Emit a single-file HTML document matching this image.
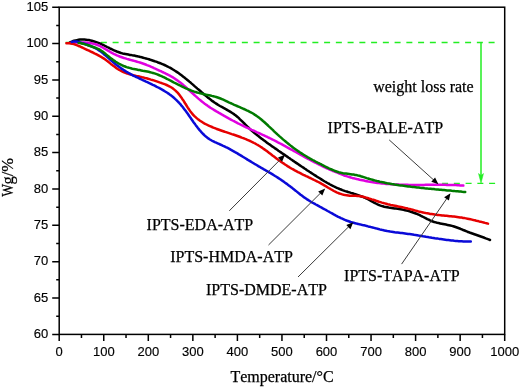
<!DOCTYPE html>
<html><head><meta charset="utf-8"><title>TGA curves</title>
<style>html,body{margin:0;padding:0;background:#fff;}body{width:520px;height:387px;overflow:hidden;}svg{display:block;filter:blur(0.25px);}</style>
</head><body><svg width="520" height="387" viewBox="0 0 520 387"><path d="M65.6,42.6H496" stroke="#22ee22" stroke-width="1.5" stroke-dasharray="6 5.75" fill="none"/><path d="M442.1,183.4H495.5" stroke="#22ee22" stroke-width="1.2" stroke-dasharray="6 5.75" fill="none"/><path d="M481,42.6V176" stroke="#22ee22" stroke-width="1.5" fill="none"/><path d="M478.5,173.5L481,183.2L483.5,173.5L481,175.5Z" fill="#22ee22" stroke="#22ee22" stroke-width="0.5"/><path d="M69.9,42.5 71.3,41.9 72.7,41.3 74.1,40.8 75.6,40.4 77.0,40.1 78.5,39.8 80.0,39.6 81.5,39.5 83.0,39.5 84.5,39.6 86.0,39.7 87.5,39.9 89.0,40.1 90.5,40.4 91.9,40.7 93.4,41.1 94.8,41.6 96.3,42.1 97.7,42.6 99.1,43.1 100.5,43.7 101.8,44.4 103.2,45.0 104.5,45.7 105.9,46.3 107.2,47.0 108.6,47.7 109.9,48.4 111.3,49.0 112.6,49.7 114.0,50.3 115.4,50.9 116.8,51.5 118.2,52.0 119.6,52.5 121.0,53.0 122.5,53.4 124.0,53.7 125.4,54.0 126.9,54.3 128.4,54.6 129.9,54.9 131.4,55.1 132.8,55.4 134.3,55.6 135.8,55.9 137.3,56.2 138.7,56.6 140.2,56.9 141.7,57.3 143.1,57.7 144.6,58.1 146.0,58.5 147.5,58.9 148.9,59.3 150.3,59.8 151.8,60.2 153.2,60.7 154.7,61.2 156.1,61.6 157.5,62.2 158.9,62.7 160.3,63.2 161.7,63.8 163.1,64.4 164.5,65.0 165.8,65.6 167.2,66.3 168.5,67.0 169.9,67.7 171.2,68.4 172.5,69.2 173.8,70.0 175.0,70.8 176.3,71.6 177.5,72.4 178.8,73.3 180.0,74.2 181.2,75.1 182.4,76.0 183.6,76.9 184.8,77.8 185.9,78.8 187.1,79.7 188.3,80.7 189.4,81.7 190.6,82.6 191.7,83.6 192.9,84.6 194.0,85.6 195.1,86.6 196.3,87.6 197.4,88.6 198.5,89.5 199.7,90.5 200.8,91.5 201.9,92.5 203.1,93.5 204.2,94.5 205.4,95.4 206.5,96.4 207.7,97.4 208.9,98.3 210.1,99.2 211.2,100.2 212.5,101.1 213.7,101.9 214.9,102.8 216.2,103.6 217.4,104.4 218.7,105.2 220.0,106.0 221.3,106.7 222.7,107.4 224.0,108.2 225.3,108.9 226.6,109.6 227.9,110.4 229.2,111.1 230.5,111.9 231.8,112.7 233.0,113.5 234.3,114.4 235.5,115.3 236.7,116.3 237.8,117.2 238.9,118.2 240.0,119.3 241.1,120.3 242.2,121.4 243.2,122.4 244.3,123.5 245.4,124.6 246.4,125.6 247.5,126.7 248.6,127.7 249.7,128.8 250.8,129.8 251.9,130.8 253.1,131.8 254.2,132.7 255.4,133.7 256.5,134.7 257.7,135.6 258.9,136.5 260.1,137.5 261.3,138.4 262.5,139.3 263.7,140.2 264.9,141.1 266.1,142.0 267.3,142.9 268.5,143.8 269.8,144.6 271.0,145.5 272.2,146.4 273.5,147.2 274.7,148.1 275.9,148.9 277.2,149.8 278.4,150.7 279.6,151.5 280.9,152.4 282.1,153.2 283.4,154.1 284.6,154.9 285.9,155.8 287.1,156.6 288.3,157.5 289.6,158.3 290.8,159.2 292.1,160.0 293.3,160.9 294.5,161.7 295.8,162.6 297.0,163.4 298.3,164.3 299.5,165.1 300.8,166.0 302.0,166.8 303.3,167.6 304.5,168.5 305.8,169.3 307.0,170.2 308.3,171.0 309.5,171.8 310.8,172.6 312.1,173.5 313.3,174.3 314.6,175.1 315.9,175.9 317.1,176.7 318.4,177.5 319.7,178.3 321.0,179.1 322.2,179.9 323.5,180.7 324.8,181.5 326.1,182.2 327.4,183.0 328.7,183.7 330.1,184.5 331.4,185.2 332.7,185.8 334.1,186.5 335.4,187.2 336.8,187.8 338.2,188.4 339.6,189.0 341.0,189.5 342.4,190.1 343.8,190.6 345.2,191.1 346.7,191.5 348.1,192.0 349.5,192.4 351.0,192.9 352.4,193.3 353.8,193.8 355.3,194.2 356.7,194.7 358.1,195.2 359.6,195.7 361.0,196.2 362.4,196.7 363.8,197.3 365.2,197.9 366.5,198.5 367.9,199.2 369.2,199.9 370.5,200.6 371.8,201.4 373.2,202.1 374.5,202.8 375.8,203.5 377.1,204.2 378.5,204.8 379.9,205.4 381.3,205.9 382.8,206.3 384.2,206.7 385.7,207.0 387.2,207.3 388.7,207.6 390.1,207.8 391.6,208.0 393.1,208.2 394.6,208.4 396.1,208.6 397.6,208.8 399.1,209.0 400.6,209.3 402.1,209.6 403.5,209.9 405.0,210.2 406.5,210.5 407.9,210.9 409.4,211.3 410.8,211.7 412.3,212.2 413.7,212.7 415.1,213.2 416.5,213.7 417.9,214.3 419.3,214.9 420.6,215.6 422.0,216.3 423.3,217.0 424.6,217.7 426.0,218.4 427.3,219.1 428.7,219.7 430.0,220.4 431.4,221.0 432.8,221.5 434.2,222.0 435.7,222.4 437.1,222.8 438.6,223.1 440.1,223.4 441.6,223.7 443.0,224.0 444.5,224.3 446.0,224.6 447.5,224.9 449.0,225.2 450.4,225.5 451.9,225.9 453.3,226.3 454.8,226.8 456.2,227.3 457.6,227.8 459.0,228.3 460.4,228.8 461.8,229.4 463.2,230.0 464.6,230.5 466.0,231.1 467.4,231.7 468.8,232.2 470.2,232.8 471.6,233.3 473.0,233.8 474.4,234.3 475.9,234.8 477.3,235.3 478.7,235.8 480.1,236.3 481.5,236.8 483.0,237.3 484.4,237.8 485.8,238.4 487.2,238.9 488.6,239.4 490.0,240.0" fill="none" stroke="#000000" stroke-width="2.5" stroke-linejoin="round" stroke-linecap="round"/><path d="M70.0,43.0 71.5,42.9 73.0,42.8 74.5,42.7 76.0,42.6 77.5,42.6 79.1,42.5 80.6,42.5 82.1,42.5 83.6,42.5 85.1,42.6 86.6,42.7 88.1,42.8 89.6,43.0 91.1,43.3 92.6,43.6 94.0,43.9 95.5,44.3 96.9,44.8 98.3,45.3 99.7,45.9 101.1,46.6 102.4,47.3 103.7,48.1 105.0,48.8 106.3,49.6 107.6,50.4 108.9,51.2 110.2,51.9 111.5,52.7 112.8,53.4 114.2,54.1 115.5,54.7 116.9,55.4 118.3,55.9 119.7,56.5 121.1,57.0 122.5,57.5 124.0,58.0 125.4,58.4 126.9,58.9 128.3,59.3 129.8,59.7 131.2,60.1 132.7,60.5 134.1,60.9 135.6,61.3 137.0,61.7 138.5,62.1 139.9,62.5 141.4,63.0 142.8,63.5 144.2,64.0 145.6,64.5 147.0,65.1 148.4,65.6 149.8,66.2 151.2,66.8 152.6,67.4 154.0,68.1 155.3,68.7 156.7,69.3 158.1,70.0 159.4,70.6 160.8,71.2 162.2,71.9 163.5,72.5 164.9,73.2 166.3,73.9 167.6,74.5 168.9,75.2 170.3,75.9 171.6,76.7 172.9,77.4 174.2,78.2 175.4,79.1 176.7,79.9 177.9,80.8 179.1,81.7 180.3,82.6 181.5,83.5 182.7,84.5 183.8,85.5 185.0,86.4 186.1,87.4 187.2,88.4 188.4,89.4 189.5,90.5 190.6,91.5 191.7,92.5 192.8,93.5 193.9,94.5 195.0,95.6 196.2,96.6 197.3,97.6 198.4,98.6 199.6,99.6 200.7,100.5 201.9,101.5 203.1,102.4 204.3,103.4 205.5,104.3 206.7,105.1 207.9,106.0 209.2,106.9 210.4,107.7 211.7,108.5 213.0,109.3 214.3,110.1 215.6,110.9 216.9,111.7 218.2,112.4 219.5,113.2 220.8,113.9 222.1,114.7 223.4,115.4 224.7,116.2 226.0,116.9 227.3,117.6 228.7,118.4 230.0,119.1 231.3,119.8 232.6,120.5 234.0,121.2 235.3,121.9 236.7,122.6 238.0,123.3 239.4,124.0 240.7,124.7 242.1,125.3 243.4,126.0 244.8,126.6 246.1,127.3 247.5,127.9 248.9,128.5 250.3,129.2 251.6,129.8 253.0,130.4 254.4,131.0 255.8,131.7 257.1,132.3 258.5,132.9 259.9,133.5 261.2,134.2 262.6,134.8 264.0,135.4 265.4,136.1 266.7,136.7 268.1,137.4 269.4,138.0 270.8,138.7 272.1,139.3 273.5,140.0 274.8,140.7 276.2,141.4 277.5,142.1 278.9,142.8 280.2,143.5 281.5,144.2 282.8,144.9 284.2,145.7 285.5,146.4 286.8,147.1 288.1,147.8 289.5,148.6 290.8,149.3 292.1,150.0 293.4,150.8 294.7,151.5 296.1,152.2 297.4,153.0 298.7,153.7 300.0,154.4 301.3,155.2 302.7,155.9 304.0,156.6 305.3,157.4 306.6,158.1 308.0,158.8 309.3,159.5 310.6,160.2 311.9,160.9 313.3,161.6 314.6,162.3 316.0,163.0 317.3,163.7 318.7,164.4 320.0,165.0 321.4,165.7 322.7,166.4 324.1,167.0 325.5,167.6 326.8,168.3 328.2,168.9 329.6,169.5 331.0,170.1 332.4,170.7 333.8,171.2 335.2,171.8 336.6,172.4 338.0,172.9 339.4,173.5 340.8,174.1 342.2,174.6 343.6,175.2 345.0,175.7 346.4,176.1 347.9,176.6 349.3,177.0 350.8,177.5 352.2,177.9 353.7,178.2 355.1,178.6 356.6,179.0 358.1,179.3 359.6,179.7 361.0,180.0 362.5,180.3 364.0,180.6 365.5,180.9 366.9,181.2 368.4,181.5 369.9,181.7 371.4,182.0 372.9,182.2 374.4,182.5 375.9,182.7 377.4,182.9 378.9,183.1 380.4,183.3 381.9,183.4 383.4,183.6 384.9,183.7 386.4,183.9 387.9,184.0 389.4,184.1 390.9,184.2 392.4,184.3 393.9,184.4 395.4,184.5 396.9,184.5 398.4,184.6 399.9,184.7 401.4,184.7 402.9,184.7 404.5,184.8 406.0,184.8 407.5,184.8 409.0,184.9 410.5,184.9 412.0,184.9 413.5,184.9 415.0,184.9 416.5,184.9 418.0,184.9 419.5,184.9 421.1,184.9 422.6,184.9 424.1,184.9 425.6,184.8 427.1,184.8 428.6,184.8 430.1,184.8 431.6,184.8 433.1,184.8 434.6,184.8 436.1,184.8 437.7,184.8 439.2,184.8 440.7,184.8 442.2,184.8 443.7,184.8 445.2,184.8 446.7,184.9 448.2,184.9 449.7,184.9 451.2,185.0 452.7,185.0 454.3,185.1 455.8,185.1 457.3,185.2 458.8,185.3 460.3,185.4 461.8,185.5 463.3,185.6" fill="none" stroke="#e000e0" stroke-width="2.5" stroke-linejoin="round" stroke-linecap="round"/><path d="M66.4,43.2 67.9,43.2 69.4,43.3 70.9,43.5 72.3,43.8 73.8,44.1 75.2,44.6 76.6,45.1 78.0,45.7 79.4,46.2 80.8,46.9 82.2,47.5 83.5,48.2 84.9,48.8 86.2,49.5 87.6,50.1 89.0,50.7 90.3,51.4 91.7,52.0 93.1,52.6 94.4,53.3 95.8,54.0 97.1,54.6 98.4,55.3 99.8,56.1 101.1,56.8 102.3,57.6 103.6,58.4 104.9,59.3 106.1,60.1 107.3,61.1 108.5,62.0 109.6,62.9 110.8,63.9 112.0,64.8 113.2,65.7 114.4,66.6 115.6,67.5 116.8,68.4 118.1,69.2 119.3,70.0 120.7,70.7 122.0,71.4 123.4,72.0 124.8,72.6 126.2,73.2 127.6,73.6 129.0,74.1 130.5,74.5 131.9,74.9 133.4,75.3 134.9,75.6 136.3,76.0 137.8,76.3 139.3,76.6 140.7,76.9 142.2,77.3 143.7,77.6 145.1,78.0 146.6,78.3 148.0,78.7 149.5,79.1 150.9,79.6 152.4,80.0 153.8,80.4 155.2,80.9 156.7,81.4 158.1,81.9 159.5,82.4 160.9,82.8 162.4,83.4 163.8,83.9 165.2,84.4 166.6,85.0 167.9,85.6 169.3,86.3 170.6,87.0 171.9,87.8 173.1,88.6 174.3,89.6 175.5,90.6 176.5,91.6 177.6,92.7 178.6,93.8 179.5,95.0 180.4,96.2 181.3,97.4 182.1,98.7 183.0,99.9 183.8,101.2 184.6,102.5 185.4,103.8 186.2,105.0 187.0,106.3 187.8,107.6 188.6,108.8 189.5,110.1 190.3,111.3 191.3,112.5 192.2,113.7 193.2,114.8 194.2,115.9 195.3,116.9 196.4,117.9 197.6,118.9 198.8,119.8 200.0,120.7 201.3,121.5 202.5,122.3 203.8,123.1 205.1,123.8 206.5,124.5 207.8,125.2 209.2,125.8 210.6,126.4 212.0,127.0 213.3,127.6 214.8,128.1 216.2,128.7 217.6,129.2 219.0,129.7 220.4,130.2 221.8,130.7 223.3,131.2 224.7,131.7 226.1,132.1 227.5,132.6 229.0,133.1 230.4,133.6 231.8,134.1 233.2,134.5 234.7,135.0 236.1,135.5 237.5,136.0 238.9,136.5 240.3,137.0 241.7,137.6 243.2,138.1 244.6,138.7 245.9,139.2 247.3,139.8 248.7,140.4 250.1,141.0 251.4,141.7 252.8,142.3 254.1,143.0 255.5,143.7 256.8,144.5 258.1,145.2 259.4,146.0 260.6,146.8 261.9,147.6 263.1,148.5 264.4,149.4 265.6,150.2 266.8,151.1 268.0,152.0 269.2,152.9 270.4,153.8 271.6,154.7 272.8,155.7 274.0,156.6 275.2,157.5 276.4,158.4 277.6,159.3 278.8,160.2 280.1,161.0 281.3,161.9 282.5,162.8 283.8,163.6 285.0,164.5 286.3,165.3 287.5,166.1 288.8,166.9 290.1,167.7 291.4,168.5 292.7,169.2 294.0,169.9 295.3,170.7 296.7,171.4 298.0,172.1 299.3,172.7 300.7,173.4 302.0,174.1 303.4,174.8 304.7,175.4 306.1,176.1 307.5,176.7 308.8,177.4 310.2,178.0 311.5,178.7 312.9,179.3 314.2,180.0 315.6,180.7 316.9,181.3 318.3,182.0 319.6,182.7 320.9,183.4 322.2,184.2 323.5,184.9 324.8,185.7 326.1,186.4 327.4,187.2 328.7,188.0 330.0,188.7 331.3,189.5 332.6,190.2 333.9,191.0 335.3,191.7 336.6,192.3 338.0,192.9 339.4,193.5 340.8,193.9 342.3,194.4 343.7,194.8 345.2,195.1 346.7,195.3 348.2,195.5 349.7,195.7 351.2,195.7 352.7,195.8 354.2,195.8 355.7,195.8 357.2,195.9 358.7,196.0 360.2,196.2 361.7,196.5 363.2,196.8 364.6,197.2 366.1,197.6 367.5,198.0 368.9,198.5 370.4,198.9 371.8,199.4 373.2,199.8 374.7,200.3 376.1,200.8 377.5,201.2 379.0,201.7 380.4,202.1 381.9,202.6 383.3,203.0 384.7,203.4 386.2,203.8 387.7,204.2 389.1,204.5 390.6,204.9 392.1,205.2 393.5,205.5 395.0,205.8 396.5,206.1 398.0,206.4 399.4,206.7 400.9,207.0 402.4,207.3 403.8,207.6 405.3,208.0 406.8,208.3 408.2,208.7 409.7,209.0 411.2,209.4 412.6,209.8 414.1,210.2 415.5,210.6 417.0,211.0 418.4,211.4 419.9,211.7 421.3,212.1 422.8,212.4 424.3,212.8 425.8,213.1 427.2,213.3 428.7,213.6 430.2,213.9 431.7,214.1 433.2,214.3 434.7,214.5 436.2,214.7 437.7,214.9 439.2,215.1 440.7,215.2 442.1,215.4 443.6,215.5 445.1,215.7 446.6,215.8 448.1,216.0 449.6,216.2 451.1,216.3 452.6,216.5 454.1,216.6 455.6,216.8 457.1,217.0 458.6,217.2 460.1,217.4 461.6,217.6 463.1,217.9 464.6,218.1 466.0,218.4 467.5,218.7 469.0,219.0 470.5,219.3 471.9,219.6 473.4,220.0 474.9,220.3 476.3,220.7 477.8,221.0 479.2,221.4 480.7,221.7 482.2,222.1 483.6,222.5 485.1,222.9 486.5,223.2 488.0,223.6" fill="none" stroke="#e60000" stroke-width="2.5" stroke-linejoin="round" stroke-linecap="round"/><path d="M71.8,42.0 73.2,41.6 74.7,41.4 76.2,41.5 77.7,41.8 79.1,42.2 80.6,42.6 82.0,43.1 83.4,43.5 84.9,44.0 86.3,44.5 87.7,45.0 89.2,45.5 90.6,46.0 92.0,46.6 93.3,47.2 94.7,47.8 96.0,48.5 97.3,49.3 98.6,50.1 99.8,50.9 101.1,51.8 102.3,52.7 103.4,53.7 104.6,54.7 105.7,55.6 106.8,56.6 108.0,57.6 109.1,58.7 110.2,59.7 111.3,60.6 112.5,61.6 113.6,62.6 114.8,63.5 116.0,64.5 117.2,65.4 118.4,66.3 119.6,67.2 120.8,68.1 122.0,68.9 123.3,69.8 124.6,70.6 125.8,71.4 127.1,72.2 128.4,72.9 129.8,73.6 131.1,74.4 132.4,75.1 133.7,75.8 135.1,76.4 136.4,77.1 137.8,77.7 139.2,78.4 140.5,79.0 141.9,79.7 143.3,80.3 144.6,80.9 146.0,81.6 147.4,82.2 148.7,82.8 150.1,83.5 151.4,84.1 152.8,84.8 154.2,85.4 155.5,86.1 156.8,86.8 158.2,87.5 159.5,88.2 160.8,88.9 162.1,89.6 163.4,90.4 164.7,91.2 166.0,92.0 167.3,92.8 168.5,93.6 169.7,94.5 171.0,95.4 172.1,96.3 173.3,97.3 174.5,98.3 175.6,99.3 176.7,100.3 177.7,101.4 178.8,102.5 179.8,103.6 180.8,104.7 181.7,105.9 182.7,107.0 183.6,108.2 184.5,109.4 185.4,110.6 186.3,111.8 187.2,113.1 188.1,114.3 188.9,115.5 189.8,116.8 190.7,118.0 191.5,119.2 192.4,120.5 193.2,121.7 194.1,122.9 195.0,124.1 195.9,125.4 196.8,126.6 197.7,127.8 198.6,128.9 199.6,130.1 200.6,131.2 201.6,132.4 202.6,133.5 203.7,134.5 204.8,135.6 205.9,136.6 207.1,137.5 208.3,138.4 209.5,139.2 210.8,140.0 212.1,140.8 213.5,141.4 214.8,142.1 216.2,142.7 217.6,143.3 219.0,143.9 220.3,144.5 221.7,145.1 223.1,145.8 224.4,146.4 225.8,147.1 227.1,147.7 228.5,148.4 229.8,149.1 231.1,149.9 232.4,150.6 233.7,151.3 235.1,152.1 236.4,152.8 237.7,153.6 238.9,154.4 240.2,155.1 241.5,155.9 242.8,156.7 244.1,157.5 245.4,158.3 246.7,159.1 247.9,159.9 249.2,160.6 250.5,161.4 251.8,162.2 253.1,163.0 254.4,163.8 255.7,164.5 257.0,165.3 258.3,166.1 259.6,166.8 260.9,167.6 262.2,168.3 263.5,169.1 264.8,169.8 266.1,170.6 267.4,171.3 268.7,172.1 270.0,172.8 271.3,173.6 272.6,174.4 273.9,175.2 275.1,176.0 276.4,176.8 277.7,177.6 278.9,178.4 280.2,179.2 281.4,180.1 282.7,180.9 283.9,181.8 285.1,182.7 286.4,183.6 287.6,184.5 288.8,185.4 290.0,186.3 291.2,187.2 292.4,188.1 293.5,189.1 294.7,190.0 295.9,190.9 297.1,191.9 298.2,192.8 299.4,193.7 300.6,194.7 301.8,195.6 303.0,196.5 304.2,197.4 305.5,198.2 306.7,199.1 308.0,199.9 309.3,200.7 310.5,201.5 311.8,202.3 313.1,203.0 314.4,203.7 315.8,204.5 317.1,205.2 318.4,205.9 319.7,206.6 321.1,207.3 322.4,208.1 323.7,208.8 325.0,209.5 326.3,210.2 327.6,211.0 329.0,211.7 330.3,212.5 331.6,213.2 332.9,213.9 334.2,214.7 335.5,215.4 336.9,216.1 338.2,216.8 339.6,217.4 340.9,218.1 342.3,218.7 343.7,219.3 345.0,219.9 346.4,220.5 347.9,221.0 349.3,221.5 350.7,222.0 352.2,222.4 353.6,222.8 355.1,223.2 356.5,223.6 358.0,223.9 359.4,224.3 360.9,224.6 362.4,225.0 363.8,225.3 365.3,225.6 366.8,226.0 368.2,226.4 369.7,226.7 371.1,227.1 372.6,227.5 374.1,227.9 375.5,228.3 377.0,228.6 378.4,229.0 379.9,229.4 381.4,229.7 382.8,230.1 384.3,230.4 385.8,230.7 387.2,231.0 388.7,231.2 390.2,231.5 391.7,231.7 393.2,231.9 394.7,232.2 396.2,232.4 397.7,232.6 399.2,232.8 400.7,233.0 402.1,233.1 403.6,233.3 405.1,233.5 406.6,233.7 408.1,233.9 409.6,234.1 411.1,234.3 412.6,234.5 414.1,234.8 415.6,235.0 417.1,235.2 418.5,235.5 420.0,235.7 421.5,235.9 423.0,236.2 424.5,236.4 426.0,236.7 427.5,236.9 428.9,237.2 430.4,237.4 431.9,237.7 433.4,237.9 434.9,238.2 436.4,238.4 437.9,238.6 439.3,238.9 440.8,239.1 442.3,239.3 443.8,239.5 445.3,239.7 446.8,239.9 448.3,240.1 449.8,240.3 451.3,240.5 452.8,240.6 454.3,240.8 455.8,240.9 457.3,241.0 458.8,241.2 460.3,241.3 461.8,241.3 463.3,241.4 464.8,241.5 466.3,241.5 467.8,241.5 469.3,241.5 470.8,241.5" fill="none" stroke="#0a0ad8" stroke-width="2.5" stroke-linejoin="round" stroke-linecap="round"/><path d="M78.6,42.9 80.1,43.1 81.6,43.4 83.1,43.7 84.5,44.1 86.0,44.6 87.4,45.0 88.8,45.5 90.2,46.0 91.7,46.5 93.1,47.0 94.5,47.5 95.9,48.0 97.3,48.6 98.7,49.2 100.1,49.9 101.3,50.7 102.6,51.6 103.8,52.5 105.0,53.4 106.1,54.4 107.3,55.4 108.4,56.3 109.6,57.3 110.8,58.2 112.0,59.1 113.2,60.0 114.5,60.9 115.7,61.7 117.0,62.5 118.3,63.3 119.6,64.0 120.9,64.7 122.3,65.4 123.7,66.0 125.1,66.5 126.5,67.1 128.0,67.5 129.4,67.9 130.9,68.3 132.3,68.7 133.8,69.0 135.3,69.3 136.8,69.6 138.3,69.9 139.7,70.1 141.2,70.4 142.7,70.7 144.2,70.9 145.7,71.2 147.2,71.5 148.6,71.8 150.1,72.2 151.6,72.6 153.0,73.0 154.5,73.4 155.9,73.9 157.3,74.4 158.7,75.0 160.1,75.6 161.5,76.2 162.9,76.8 164.2,77.4 165.6,78.1 166.9,78.8 168.3,79.5 169.6,80.2 171.0,80.9 172.3,81.6 173.6,82.3 175.0,83.0 176.3,83.7 177.7,84.4 179.0,85.0 180.4,85.7 181.7,86.4 183.1,87.0 184.4,87.7 185.8,88.3 187.2,88.9 188.6,89.5 190.0,90.0 191.4,90.6 192.8,91.1 194.3,91.6 195.7,92.0 197.1,92.5 198.6,92.9 200.1,93.3 201.5,93.6 203.0,94.0 204.5,94.3 205.9,94.6 207.4,94.9 208.9,95.2 210.4,95.5 211.9,95.9 213.3,96.2 214.8,96.6 216.2,97.0 217.7,97.5 219.1,98.0 220.5,98.5 221.9,99.1 223.3,99.7 224.7,100.3 226.0,101.0 227.4,101.6 228.8,102.3 230.1,102.9 231.5,103.5 232.9,104.2 234.2,104.8 235.6,105.4 237.0,106.0 238.4,106.6 239.8,107.2 241.2,107.8 242.5,108.4 243.9,109.0 245.3,109.6 246.7,110.3 248.1,110.9 249.4,111.6 250.8,112.3 252.1,113.0 253.4,113.8 254.6,114.6 255.9,115.4 257.1,116.3 258.4,117.2 259.6,118.1 260.7,119.0 261.9,120.0 263.0,121.0 264.2,122.0 265.3,123.0 266.4,124.0 267.5,125.0 268.6,126.1 269.7,127.1 270.8,128.1 271.9,129.2 273.0,130.2 274.1,131.3 275.2,132.3 276.3,133.3 277.4,134.4 278.5,135.4 279.6,136.4 280.8,137.4 281.9,138.4 283.0,139.4 284.2,140.4 285.3,141.3 286.5,142.3 287.7,143.2 288.9,144.2 290.0,145.1 291.2,146.1 292.4,147.0 293.6,147.9 294.8,148.8 296.1,149.7 297.3,150.5 298.5,151.4 299.8,152.3 301.1,153.1 302.3,153.9 303.6,154.7 304.9,155.5 306.2,156.3 307.5,157.1 308.8,157.8 310.1,158.6 311.4,159.3 312.7,160.0 314.1,160.7 315.4,161.5 316.7,162.2 318.1,162.9 319.4,163.5 320.8,164.2 322.1,164.9 323.5,165.6 324.8,166.3 326.1,167.0 327.5,167.6 328.9,168.3 330.2,168.9 331.6,169.5 333.0,170.1 334.4,170.7 335.8,171.2 337.2,171.7 338.7,172.2 340.1,172.6 341.6,172.9 343.1,173.2 344.6,173.4 346.1,173.6 347.6,173.8 349.1,174.0 350.6,174.2 352.1,174.4 353.6,174.6 355.1,174.9 356.5,175.1 358.0,175.5 359.5,175.8 360.9,176.3 362.4,176.7 363.8,177.1 365.3,177.6 366.7,178.1 368.1,178.5 369.6,179.0 371.0,179.4 372.5,179.8 373.9,180.2 375.4,180.6 376.9,181.0 378.3,181.3 379.8,181.7 381.3,182.0 382.7,182.3 384.2,182.6 385.7,182.9 387.2,183.2 388.7,183.4 390.2,183.7 391.7,184.0 393.1,184.2 394.6,184.5 396.1,184.7 397.6,184.9 399.1,185.2 400.6,185.4 402.1,185.6 403.6,185.8 405.1,186.0 406.6,186.2 408.1,186.4 409.6,186.6 411.1,186.8 412.6,186.9 414.1,187.1 415.6,187.3 417.1,187.5 418.6,187.6 420.1,187.8 421.6,187.9 423.1,188.1 424.6,188.3 426.1,188.4 427.6,188.6 429.1,188.7 430.6,188.8 432.1,189.0 433.6,189.1 435.1,189.3 436.6,189.4 438.1,189.5 439.6,189.7 441.1,189.8 442.6,190.0 444.1,190.1 445.6,190.2 447.1,190.4 448.6,190.5 450.2,190.6 451.7,190.8 453.2,190.9 454.7,191.1 456.2,191.2 457.7,191.3 459.2,191.5 460.7,191.6 462.2,191.8 463.7,191.9 465.2,192.1" fill="none" stroke="#007a00" stroke-width="2.5" stroke-linejoin="round" stroke-linecap="round"/><path d="M52.2,334.40H59.2 M56.2,316.22H59.2 M52.2,298.04H59.2 M56.2,279.87H59.2 M52.2,261.69H59.2 M56.2,243.51H59.2 M52.2,225.33H59.2 M56.2,207.16H59.2 M52.2,188.98H59.2 M56.2,170.80H59.2 M52.2,152.62H59.2 M56.2,134.44H59.2 M52.2,116.27H59.2 M56.2,98.09H59.2 M52.2,79.91H59.2 M56.2,61.73H59.2 M52.2,43.56H59.2 M56.2,25.38H59.2 M52.2,7.20H59.2 M52.2,7.20H59.2 M59.20,334.4V341.0 M81.47,334.4V338.0 M103.75,334.4V341.0 M126.03,334.4V338.0 M148.30,334.4V341.0 M170.57,334.4V338.0 M192.85,334.4V341.0 M215.12,334.4V338.0 M237.40,334.4V341.0 M259.68,334.4V338.0 M281.95,334.4V341.0 M304.23,334.4V338.0 M326.50,334.4V341.0 M348.77,334.4V338.0 M371.05,334.4V341.0 M393.32,334.4V338.0 M415.60,334.4V341.0 M437.88,334.4V338.0 M460.15,334.4V341.0 M482.43,334.4V338.0 M504.70,334.4V341.0" stroke="#000" stroke-width="1.5" fill="none"/><rect x="59.20" y="7.20" width="445.50" height="327.20" fill="none" stroke="#000" stroke-width="1.5"/><g font-family="Liberation Sans, Arial, sans-serif" font-size="13" fill="#000" stroke="#000" stroke-width="0.15"><text x="48.2" y="338.0" text-anchor="end">60</text><text x="48.2" y="301.6" text-anchor="end">65</text><text x="48.2" y="265.3" text-anchor="end">70</text><text x="48.2" y="228.9" text-anchor="end">75</text><text x="48.2" y="192.6" text-anchor="end">80</text><text x="48.2" y="156.2" text-anchor="end">85</text><text x="48.2" y="119.9" text-anchor="end">90</text><text x="48.2" y="83.5" text-anchor="end">95</text><text x="48.2" y="47.2" text-anchor="end">100</text><text x="48.2" y="10.8" text-anchor="end">105</text><text x="59.2" y="355.8" text-anchor="middle">0</text><text x="103.8" y="355.8" text-anchor="middle">100</text><text x="148.3" y="355.8" text-anchor="middle">200</text><text x="192.9" y="355.8" text-anchor="middle">300</text><text x="237.4" y="355.8" text-anchor="middle">400</text><text x="281.9" y="355.8" text-anchor="middle">500</text><text x="326.5" y="355.8" text-anchor="middle">600</text><text x="371.1" y="355.8" text-anchor="middle">700</text><text x="415.6" y="355.8" text-anchor="middle">800</text><text x="460.1" y="355.8" text-anchor="middle">900</text><text x="504.7" y="355.8" text-anchor="middle">1000</text></g><g font-family="Liberation Serif, Times New Roman, serif" font-size="16" fill="#000" stroke="#000" stroke-width="0.25" style="font-kerning:none"><text x="282" y="381.8" text-anchor="middle">Temperature/°C</text><g transform="translate(13.4,177) rotate(-90)"><text x="-23.1" transform="scale(0.85,1)">W</text><text x="-7.6" font-size="16.5">g/%</text></g><text x="373.2" y="91.5">weight loss rate</text><text x="327.6" y="132.9">IPTS-BALE-ATP</text><text x="146.6" y="230.4">IPTS-EDA-ATP</text><text x="170.2" y="262.3">IPTS-HMDA-ATP</text><text x="206.0" y="295.2">IPTS-DMDE-ATP</text><text x="344.1" y="281.0">IPTS-TAPA-ATP</text></g><path d="M389.2,139.9L433.9,180.2" stroke="#3a3a3a" stroke-width="1" fill="none"/><path d="M438.4,184.2L431.3,181.7L435.1,177.4Z" fill="#000"/><path d="M229.3,210.8L280.8,159.0" stroke="#3a3a3a" stroke-width="1" fill="none"/><path d="M285.0,154.7L282.1,161.7L278.0,157.6Z" fill="#000"/><path d="M268.5,245.0L320.9,192.7" stroke="#3a3a3a" stroke-width="1" fill="none"/><path d="M325.2,188.5L322.3,195.5L318.2,191.4Z" fill="#000"/><path d="M298.0,277.0L349.0,226.4" stroke="#3a3a3a" stroke-width="1" fill="none"/><path d="M353.3,222.2L350.4,229.2L346.3,225.1Z" fill="#000"/><path d="M401.6,264.1L447.1,198.1" stroke="#3a3a3a" stroke-width="1" fill="none"/><path d="M450.5,193.2L448.9,200.6L444.1,197.3Z" fill="#000"/></svg></body></html>
